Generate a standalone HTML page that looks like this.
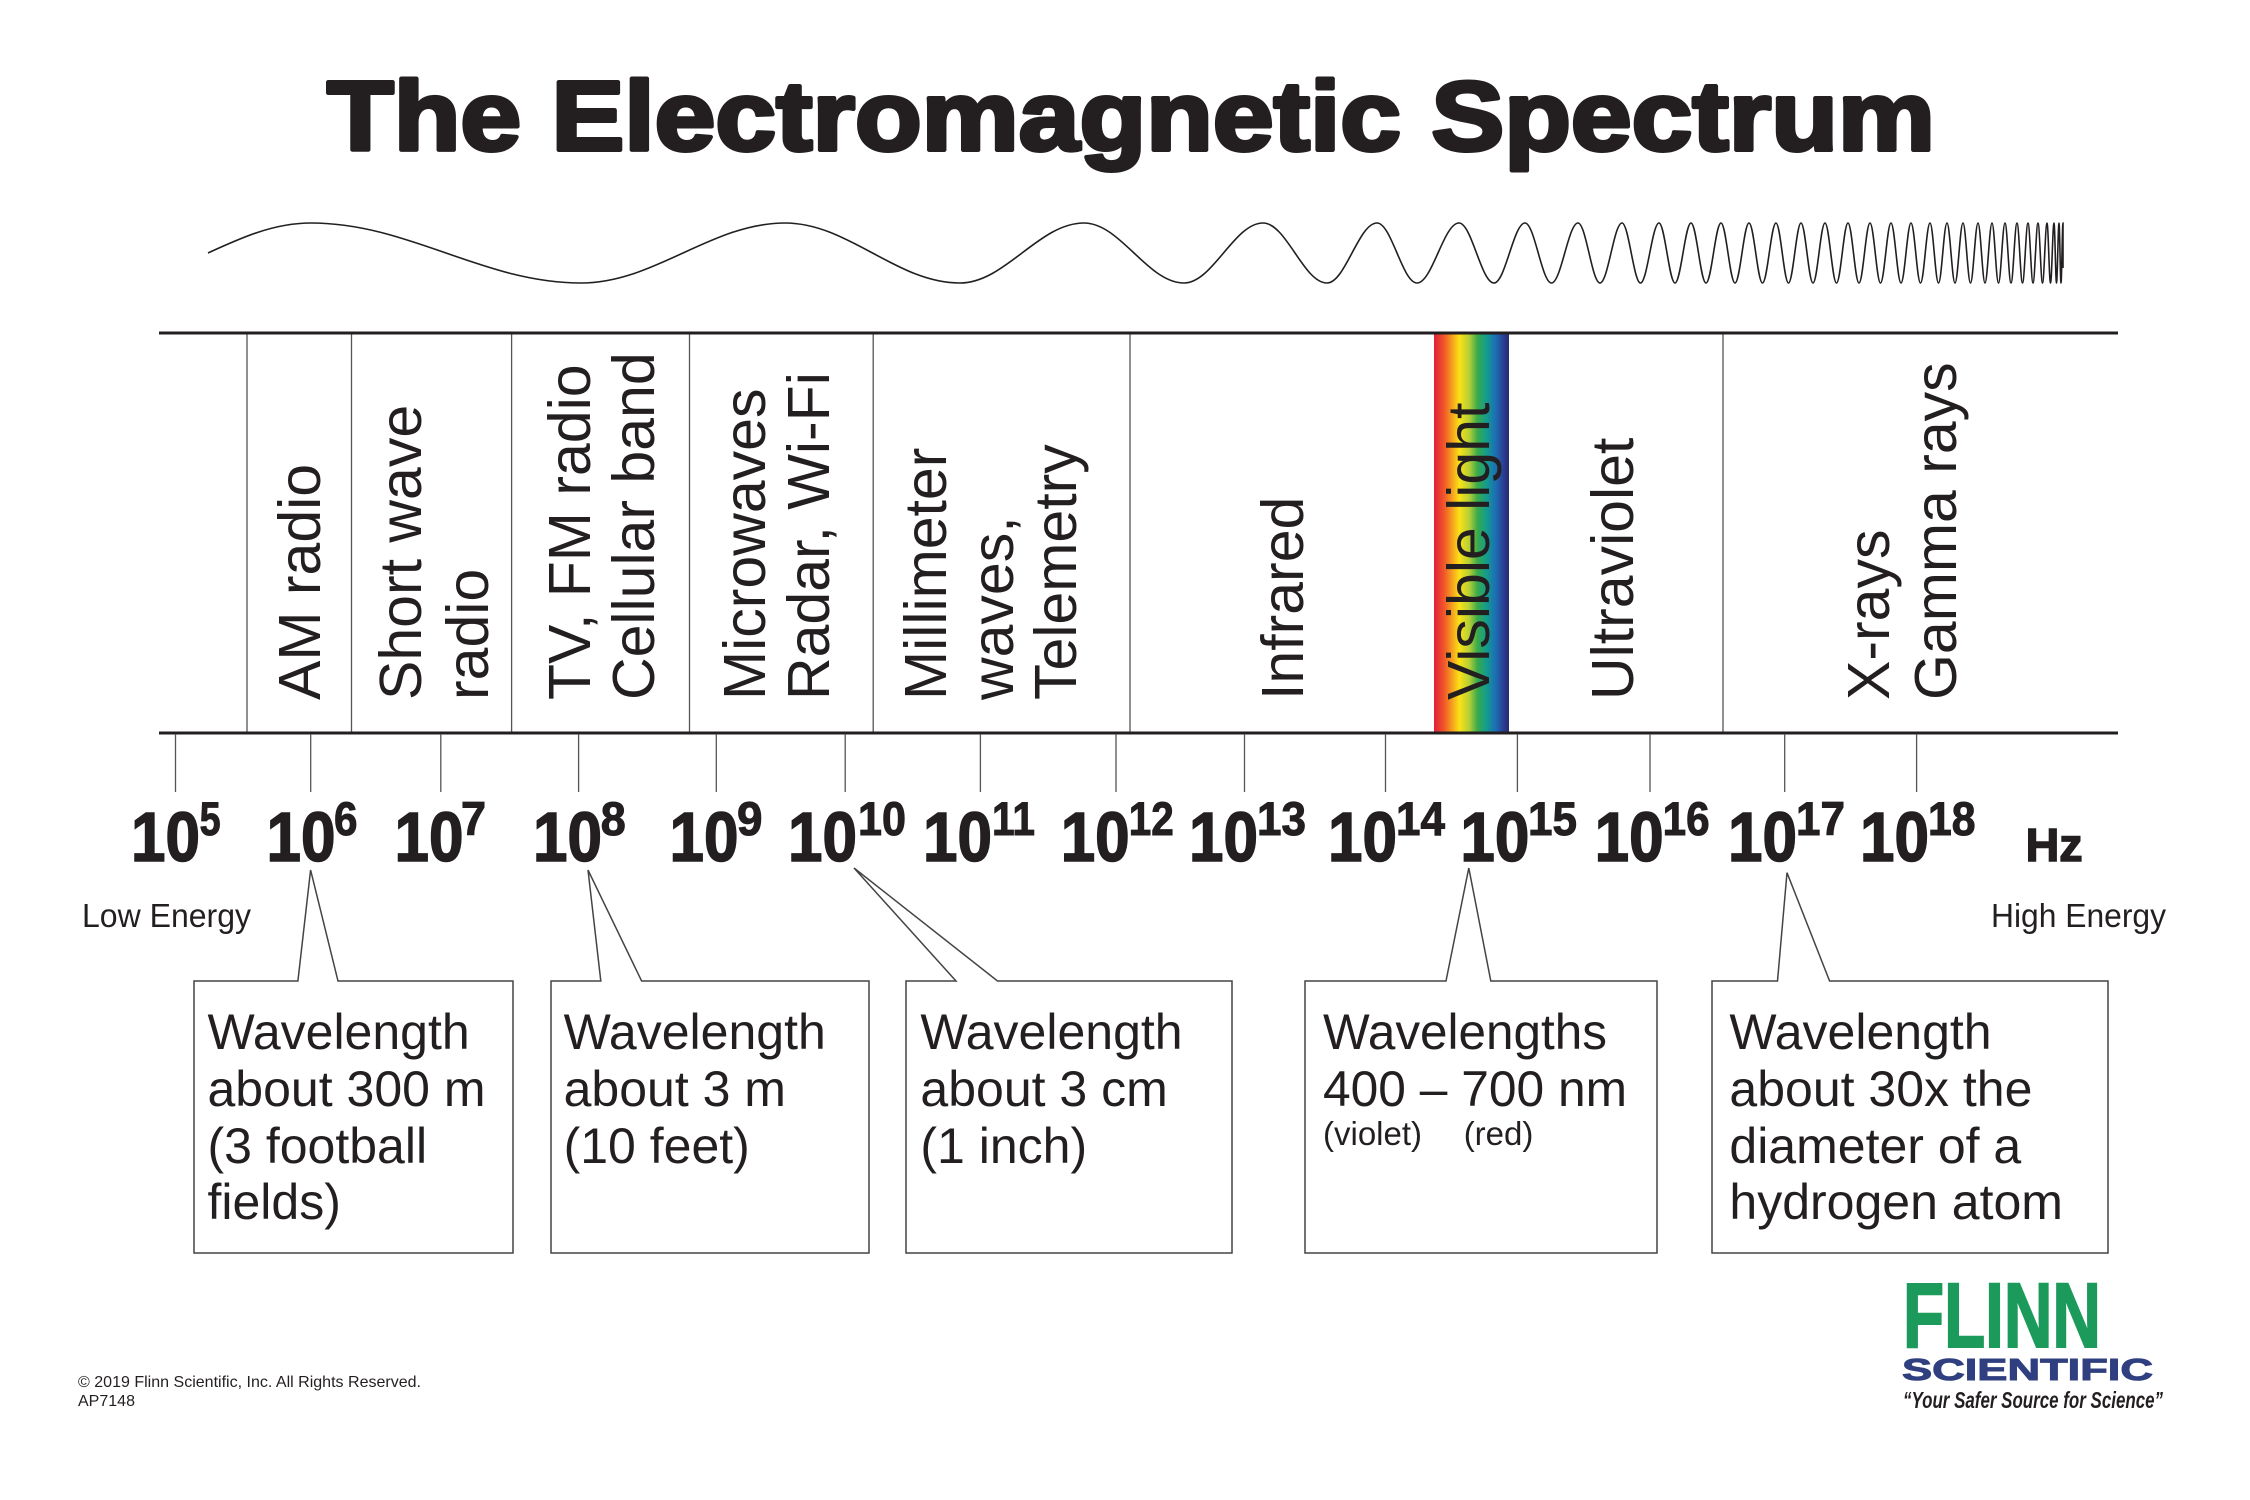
<!DOCTYPE html>
<html>
<head>
<meta charset="utf-8">
<style>
  html,body{margin:0;padding:0;background:#fff;}
  svg{display:block;}
  text{font-family:"Liberation Sans", Arial, sans-serif; fill:#231f20;}
</style>
</head>
<body>
<svg width="2250" height="1500" viewBox="0 0 2250 1500" xmlns="http://www.w3.org/2000/svg">
  <defs>
    <linearGradient id="vis" x1="0" y1="0" x2="1" y2="0">
      <stop offset="0" stop-color="#e31d3c"/>
      <stop offset="0.14" stop-color="#f05a28"/>
      <stop offset="0.34" stop-color="#fbe216"/>
      <stop offset="0.47" stop-color="#b5cf36"/>
      <stop offset="0.58" stop-color="#3aaa4a"/>
      <stop offset="0.70" stop-color="#139c8e"/>
      <stop offset="0.82" stop-color="#1c6fb4"/>
      <stop offset="0.93" stop-color="#2b3d91"/>
      <stop offset="1" stop-color="#262c6c"/>
    </linearGradient>
  </defs>
  <rect x="0" y="0" width="2250" height="1500" fill="#fff"/>

  <!-- Title -->
  <text x="327" y="150" font-size="98" font-weight="bold" textLength="1608" lengthAdjust="spacingAndGlyphs" stroke="#231f20" stroke-width="4" stroke-linejoin="round">The Electromagnetic Spectrum</text>

  <!-- Wave -->
  <path fill="none" stroke="#231f20" stroke-width="1.6" d="M208,253 C241.6,237.6 273.7,223 311,223
  C409.1,223 482.9,283 581,283
  C655.1,283 710.9,223 785,223
  C848.6,223 896.4,283 960,283
  C1005.1,283 1038.9,223 1084,223
  C1120.3,223 1147.7,283 1184,283
  C1212.7,283 1234.3,223 1263,223
  C1286.3,223 1303.7,283 1327,283
  C1345.2,283 1358.8,223 1377,223
  C1391.5,223 1402.5,283 1417,283
  C1432.3,283 1443.7,223 1459,223
  C1471.7,223 1481.3,283 1494,283
  C1505.3,283 1513.7,223 1525,223
  C1534.6,223 1541.9,283 1551.5,283
  C1561.1,283 1568.4,223 1578,223
  C1586,223 1592,283 1600,283
  C1608,283 1614,223 1622,223
  C1628.7,223 1633.8,283 1640.5,283
  C1647.2,283 1652.3,223 1659,223
  C1664.8,223 1669.2,283 1675,283
  C1680.8,283 1685.2,223 1691,223
  C1696.5,223 1700.5,283 1706,283
  C1711.5,283 1715.5,223 1721,223
  C1726.1,223 1729.9,283 1735,283
  C1740.1,283 1743.9,223 1749,223
  C1753.9,223 1757.6,283 1762.5,283
  C1767.4,283 1771.1,223 1776,223
  C1780.5,223 1784,283 1788.5,283
  C1793,283 1796.5,223 1801,223
  C1805.4,223 1808.6,283 1813,283
  C1817.4,283 1820.6,223 1825,223
  C1829.2,223 1832.3,283 1836.5,283
  C1840.7,283 1843.8,223 1848,223
  C1852,223 1855,283 1859,283
  C1863,283 1866,223 1870,223
  C1873.8,223 1876.7,283 1880.5,283
  C1884.3,283 1887.2,223 1891,223
  C1894.6,223 1897.4,283 1901,283
  C1904.6,283 1907.4,223 1911,223
  C1914.5,223 1917,283 1920.5,283
  C1924,283 1926.5,223 1930,223
  C1933.1,223 1935.4,283 1938.5,283
  C1941.6,283 1943.9,223 1947,223
  C1949.9,223 1952.1,283 1955,283
  C1957.9,283 1960.1,223 1963,223
  C1965.7,223 1967.8,283 1970.5,283
  C1973.2,283 1975.3,223 1978,223
  C1980.5,223 1982.5,283 1985,283
  C1987.5,283 1989.5,223 1992,223
  C1994.4,223 1996.1,283 1998.5,283
  C2000.9,283 2002.6,223 2005,223
  C2007.2,223 2008.8,283 2011,283
  C2013.2,283 2014.8,223 2017,223
  C2019,223 2020.5,283 2022.5,283
  C2024.5,283 2026,223 2028,223
  C2029.8,223 2031.2,283 2033,283
  C2034.8,283 2036.2,223 2038,223
  C2039.6,223 2040.9,283 2042.5,283
  C2044.1,283 2045.4,223 2047,223
  C2048.3,223 2049.2,283 2050.5,283
  C2051.8,283 2052.7,223 2054,223
  C2054.9,223 2055.6,283 2056.5,283
  C2057.4,283 2058.1,223 2059,223
  C2059.7,223 2060.3,283 2061,283
  C2061.7,283 2062.3,223 2063,223 L2063,268"/>

  <!-- Visible light strip -->
  <rect x="1434" y="333" width="75" height="400" fill="url(#vis)"/>

  <!-- Band dividers -->
  <g stroke="#555" stroke-width="1.3">
    <line x1="247" y1="333" x2="247" y2="733"/>
    <line x1="351.5" y1="333" x2="351.5" y2="733"/>
    <line x1="511.6" y1="333" x2="511.6" y2="733"/>
    <line x1="689.5" y1="333" x2="689.5" y2="733"/>
    <line x1="873.2" y1="333" x2="873.2" y2="733"/>
    <line x1="1130" y1="333" x2="1130" y2="733"/>
    <line x1="1723" y1="333" x2="1723" y2="733"/>
  </g>

  <!-- Main horizontal lines -->
  <line x1="159" y1="333" x2="2118" y2="333" stroke="#231f20" stroke-width="3"/>
  <line x1="159" y1="733" x2="2118" y2="733" stroke="#231f20" stroke-width="3"/>

  <!-- Ticks -->
  <g stroke="#555" stroke-width="1.3">
    <line x1="175.5" y1="734" x2="175.5" y2="792"/>
    <line x1="310.7" y1="734" x2="310.7" y2="792"/>
    <line x1="440.8" y1="734" x2="440.8" y2="792"/>
    <line x1="578.6" y1="734" x2="578.6" y2="792"/>
    <line x1="716.3" y1="734" x2="716.3" y2="792"/>
    <line x1="845.2" y1="734" x2="845.2" y2="792"/>
    <line x1="980.4" y1="734" x2="980.4" y2="792"/>
    <line x1="1116" y1="734" x2="1116" y2="792"/>
    <line x1="1244.5" y1="734" x2="1244.5" y2="792"/>
    <line x1="1385.5" y1="734" x2="1385.5" y2="792"/>
    <line x1="1517.4" y1="734" x2="1517.4" y2="792"/>
    <line x1="1650" y1="734" x2="1650" y2="792"/>
    <line x1="1784.7" y1="734" x2="1784.7" y2="792"/>
    <line x1="1916.6" y1="734" x2="1916.6" y2="792"/>
  </g>

  <!-- Rotated band labels -->
  <g font-size="59">
    <text transform="translate(320,700) rotate(-90)">AM radio</text>
    <text transform="translate(421,700) rotate(-90)">Short wave</text>
    <text transform="translate(488,700) rotate(-90)">radio</text>
    <text transform="translate(590,700) rotate(-90)">TV, FM radio</text>
    <text transform="translate(654,700) rotate(-90)">Cellular band</text>
    <text transform="translate(765,700) rotate(-90)">Microwaves</text>
    <text transform="translate(829,700) rotate(-90)">Radar, Wi-Fi</text>
    <text transform="translate(946,700) rotate(-90)">Millimeter</text>
    <text transform="translate(1013,700) rotate(-90)">waves,</text>
    <text transform="translate(1076,700) rotate(-90)">Telemetry</text>
    <text transform="translate(1303,700) rotate(-90)">Infrared</text>
    <text transform="translate(1489,700) rotate(-90)">Visible light</text>
    <text transform="translate(1633,700) rotate(-90)">Ultraviolet</text>
    <text transform="translate(1889,700) rotate(-90)">X-rays</text>
    <text transform="translate(1956,700) rotate(-90)">Gamma rays</text>
  </g>

  <!-- Frequency labels -->
  <g font-weight="bold" stroke="#231f20" stroke-width="1.5">
    <g font-size="70">
      <text x="131" y="861" textLength="69" lengthAdjust="spacingAndGlyphs">10</text>
      <text x="266.5" y="861" textLength="69" lengthAdjust="spacingAndGlyphs">10</text>
      <text x="394.5" y="861" textLength="69" lengthAdjust="spacingAndGlyphs">10</text>
      <text x="533" y="861" textLength="69" lengthAdjust="spacingAndGlyphs">10</text>
      <text x="669.5" y="861" textLength="69" lengthAdjust="spacingAndGlyphs">10</text>
      <text x="788" y="861" textLength="69" lengthAdjust="spacingAndGlyphs">10</text>
      <text x="923" y="861" textLength="69" lengthAdjust="spacingAndGlyphs">10</text>
      <text x="1060.7" y="861" textLength="69" lengthAdjust="spacingAndGlyphs">10</text>
      <text x="1189" y="861" textLength="69" lengthAdjust="spacingAndGlyphs">10</text>
      <text x="1328" y="861" textLength="69" lengthAdjust="spacingAndGlyphs">10</text>
      <text x="1460.4" y="861" textLength="69" lengthAdjust="spacingAndGlyphs">10</text>
      <text x="1594.6" y="861" textLength="69" lengthAdjust="spacingAndGlyphs">10</text>
      <text x="1728" y="861" textLength="69" lengthAdjust="spacingAndGlyphs">10</text>
      <text x="1860" y="861" textLength="69" lengthAdjust="spacingAndGlyphs">10</text>
    </g>
    <g font-size="47" stroke-width="1">
      <text x="199.6" y="835" textLength="21" lengthAdjust="spacingAndGlyphs">5</text>
      <text x="334" y="835" textLength="23.5" lengthAdjust="spacingAndGlyphs">6</text>
      <text x="461" y="835" textLength="25" lengthAdjust="spacingAndGlyphs">7</text>
      <text x="600.7" y="835" textLength="25" lengthAdjust="spacingAndGlyphs">8</text>
      <text x="737" y="835" textLength="25.5" lengthAdjust="spacingAndGlyphs">9</text>
      <text x="858" y="835" textLength="48" lengthAdjust="spacingAndGlyphs">10</text>
      <text x="992" y="835" textLength="43" lengthAdjust="spacingAndGlyphs">11</text>
      <text x="1128.7" y="835" textLength="45" lengthAdjust="spacingAndGlyphs">12</text>
      <text x="1257" y="835" textLength="49" lengthAdjust="spacingAndGlyphs">13</text>
      <text x="1396" y="835" textLength="49" lengthAdjust="spacingAndGlyphs">14</text>
      <text x="1528" y="835" textLength="49" lengthAdjust="spacingAndGlyphs">15</text>
      <text x="1662.6" y="835" textLength="47" lengthAdjust="spacingAndGlyphs">16</text>
      <text x="1796" y="835" textLength="49" lengthAdjust="spacingAndGlyphs">17</text>
      <text x="1928" y="835" textLength="47.5" lengthAdjust="spacingAndGlyphs">18</text>
    </g>
    <text x="2025.6" y="861" font-size="46" textLength="57" lengthAdjust="spacingAndGlyphs">Hz</text>
  </g>

  <!-- Energy labels -->
  <text x="82" y="927" font-size="33" textLength="169" lengthAdjust="spacingAndGlyphs">Low Energy</text>
  <text x="1991" y="927" font-size="33" textLength="175" lengthAdjust="spacingAndGlyphs">High Energy</text>

  <!-- Callout boxes -->
  <g fill="none" stroke="#444" stroke-width="1.5" stroke-linejoin="miter">
    <path d="M297.9,981 L310.6,870 L338,981 L513,981 L513,1253 L194,1253 L194,981 Z"/>
    <path d="M600.8,981 L588,870 L641.6,981 L869,981 L869,1253 L551,1253 L551,981 Z"/>
    <path d="M956,981 L854,868 L997.5,981 L1232,981 L1232,1253 L906,1253 L906,981 Z"/>
    <path d="M1446,981 L1468.8,868 L1490.8,981 L1657,981 L1657,1253 L1305,1253 L1305,981 Z"/>
    <path d="M1777.5,981 L1787,872.7 L1829.6,981 L2108,981 L2108,1253 L1712,1253 L1712,981 Z"/>
  </g>

  <!-- Box text -->
  <g font-size="50">
    <text x="207.5" y="1049">Wavelength</text>
    <text x="207.5" y="1106">about 300 m</text>
    <text x="207.5" y="1163">(3 football</text>
    <text x="207.5" y="1219">fields)</text>

    <text x="563.6" y="1049">Wavelength</text>
    <text x="563.6" y="1106">about 3 m</text>
    <text x="563.6" y="1163">(10 feet)</text>

    <text x="920.4" y="1049">Wavelength</text>
    <text x="920.4" y="1106">about 3 cm</text>
    <text x="920.4" y="1163">(1 inch)</text>

    <text x="1323" y="1049" textLength="284" lengthAdjust="spacingAndGlyphs">Wavelengths</text>
    <text x="1323" y="1106" textLength="304" lengthAdjust="spacingAndGlyphs">400 – 700 nm</text>

    <text x="1729.4" y="1049">Wavelength</text>
    <text x="1729.4" y="1106">about 30x the</text>
    <text x="1729.4" y="1163">diameter of a</text>
    <text x="1729.4" y="1219">hydrogen atom</text>
  </g>
  <text x="1323" y="1145" font-size="33">(violet)</text>
  <text x="1463.7" y="1145" font-size="33">(red)</text>

  <!-- Footer -->
  <text x="78" y="1387" font-size="16" textLength="343" lengthAdjust="spacingAndGlyphs">© 2019 Flinn Scientific, Inc. All Rights Reserved.</text>
  <text x="78" y="1406" font-size="16" textLength="57" lengthAdjust="spacingAndGlyphs">AP7148</text>

  <!-- Logo -->
  <text x="1903" y="1347" font-size="92" font-weight="bold" textLength="198" lengthAdjust="spacingAndGlyphs" style="fill:#1c9a5b" stroke="#1c9a5b" stroke-width="2">FLINN</text>
  <text x="1902" y="1380" font-size="31" font-weight="bold" textLength="251" lengthAdjust="spacingAndGlyphs" style="fill:#2f3f7f" stroke="#2f3f7f" stroke-width="1">SCIENTIFIC</text>
  <text x="1903" y="1408" font-size="23" font-weight="bold" font-style="italic" textLength="260" lengthAdjust="spacingAndGlyphs">“Your Safer Source for Science”</text>
</svg>
</body>
</html>
